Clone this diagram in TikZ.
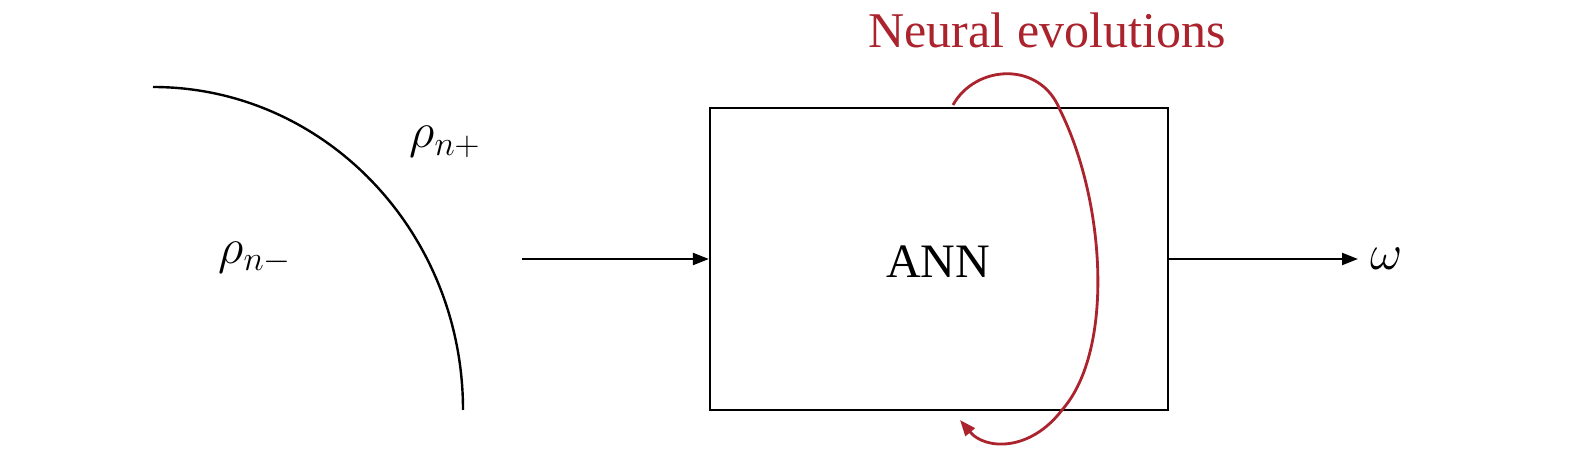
\documentclass[tikz,border=0pt]{standalone}
\usepackage{fontspec}
\setmainfont{Liberation Serif}
\usetikzlibrary{arrows.meta}
\definecolor{evo}{RGB}{170,35,45}
\begin{document}
\begin{tikzpicture}[x=0.5pt,y=-0.5pt,
  conn/.style={line width=1.1pt,-{Triangle[length=8pt,width=6pt]}}]
\useasboundingbox (0,0) rectangle (1575,453);
\draw[line width=1.2pt] (153,87) arc[start angle=-90,end angle=0,x radius=310,y radius=323];
\node (rp) at (445,142) {\fontsize{23}{25}\selectfont$\rho_{n+}$};
\node (rm) at (255,258) {\fontsize{23}{25}\selectfont$\rho_{n-}$};
\node[draw,line width=1.1pt,minimum width=229pt,minimum height=151pt,inner sep=0pt] (ann) at (939,259) {};
\node at (938,262) {\fontsize{24}{26}\selectfont ANN};
\coordinate (in) at (522,259);
\draw[conn] (in) -- (ann.west);
\node[anchor=west,inner sep=0pt] (om) at (1370,259) {\fontsize{24}{26}\selectfont$\omega$};
\coordinate (oe) at (1358,259);
\draw[conn] (ann.east) -- (oe);
\node[text=evo] (ne) at (1047,30) {\fontsize{25}{27}\selectfont Neural evolutions};
\coordinate (ls) at (953,105);
\coordinate (le) at (960,420);
\draw[evo,line width=1.4pt,-{Triangle[length=8pt,width=6pt]}] (ls) .. controls (975,65) and (1040,60) .. (1060,110)
  .. controls (1105,200) and (1115,350) .. (1062,410) .. controls (1030,452) and (985,450) .. (le);
\end{tikzpicture}
\end{document}
